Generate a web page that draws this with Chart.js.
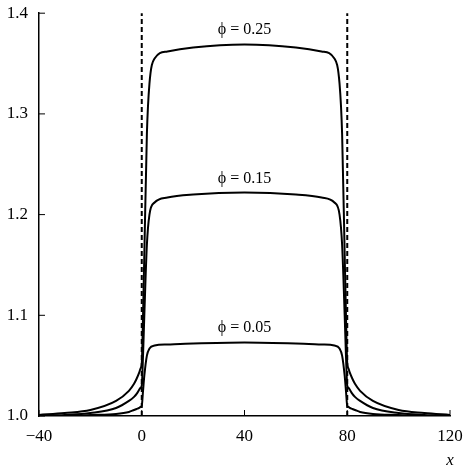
<!DOCTYPE html>
<html>
<head>
<meta charset="utf-8">
<script src="https://cdn.jsdelivr.net/npm/chart.js@4"></script>
<style>
  html, body { margin: 0; padding: 0; background: #fff; }
  #wrap { width: 474px; height: 474px; }
</style>
</head>
<body>
<div id="wrap"><canvas id="grafica"></canvas></div>
<script>
// x positions sampled along the profile (mirror-symmetric about x = 40)
const xs = [-40, -30, -20, -10, -5, -3, -2, -1, -0.5, 0, 0.5, 1, 2, 3, 5, 10, 20, 40,
            60, 70, 75, 77, 78, 79, 79.5, 80, 80.5, 81, 82, 83, 85, 90, 100, 110, 120];

const phi25 = [1.001, 1.003, 1.006, 1.015, 1.025, 1.032, 1.037, 1.043, 1.047, 1.052, 1.1, 1.16, 1.28, 1.33, 1.355, 1.362, 1.366, 1.369,
               1.366, 1.362, 1.355, 1.33, 1.28, 1.16, 1.1, 1.052, 1.047, 1.043, 1.037, 1.032, 1.025, 1.015, 1.006, 1.003, 1.001];
const phi15 = [1.0, 1.001, 1.003, 1.008, 1.015, 1.019, 1.022, 1.026, 1.028, 1.03, 1.06, 1.1, 1.17, 1.2, 1.212, 1.217, 1.22, 1.222,
               1.22, 1.217, 1.212, 1.2, 1.17, 1.1, 1.06, 1.03, 1.028, 1.026, 1.022, 1.019, 1.015, 1.008, 1.003, 1.001, 1.0];
const phi05 = [1.0, 1.0, 1.001, 1.002, 1.004, 1.006, 1.007, 1.008, 1.009, 1.01, 1.025, 1.04, 1.06, 1.067, 1.07, 1.071, 1.072, 1.073,
               1.072, 1.071, 1.07, 1.067, 1.06, 1.04, 1.025, 1.01, 1.009, 1.008, 1.007, 1.006, 1.004, 1.002, 1.001, 1.0, 1.0];

const etiquetas = [
  { texto: 'ϕ = 0.25', x: 40, y: 1.382 },
  { texto: 'ϕ = 0.15', x: 40, y: 1.234 },
  { texto: 'ϕ = 0.05', x: 40, y: 1.086 }
];
const bordes = [0, 80];
const xTicks = [-40, 0, 40, 80, 120];

function serie(ys) {
  return {
    data: xs.map((x, i) => ({ x: x, y: ys[i] })),
    showLine: true,
    borderColor: '#000',
    borderWidth: 2,
    pointRadius: 0,
    cubicInterpolationMode: 'monotone'
  };
}

const extras = {
  id: 'extras',
  afterDatasetsDraw(chart) {
    const ctx = chart.ctx;
    const sx = chart.scales.x, sy = chart.scales.y;
    ctx.save();
    // dashed boundaries
    ctx.strokeStyle = '#000';
    ctx.lineWidth = 2;
    ctx.setLineDash([5, 3]);
    bordes.forEach(b => {
      ctx.beginPath();
      ctx.moveTo(sx.getPixelForValue(b), sy.getPixelForValue(1.0));
      ctx.lineTo(sx.getPixelForValue(b), sy.getPixelForValue(1.4));
      ctx.stroke();
    });
    ctx.setLineDash([]);
    // inward ticks
    ctx.lineWidth = 1;
    xTicks.forEach(t => {
      const px = sx.getPixelForValue(t);
      ctx.beginPath();
      ctx.moveTo(px, sy.bottom);
      ctx.lineTo(px, sy.bottom - 6);
      ctx.stroke();
    });
    [1.0, 1.1, 1.2, 1.3, 1.4].forEach(t => {
      const py = sy.getPixelForValue(t);
      ctx.beginPath();
      ctx.moveTo(sx.left, py);
      ctx.lineTo(sx.left + 6, py);
      ctx.stroke();
    });
    // labels
    ctx.fillStyle = '#000';
    ctx.font = '16px "Liberation Serif", serif';
    ctx.textAlign = 'center';
    ctx.textBaseline = 'bottom';
    etiquetas.forEach(e => {
      ctx.fillText(e.texto, sx.getPixelForValue(e.x), sy.getPixelForValue(e.y) + 6);
    });
    ctx.font = 'italic 17px "Liberation Serif", serif';
    ctx.textAlign = 'center';
    ctx.textBaseline = 'middle';
    ctx.fillText('x', sx.right, sy.bottom + 45);
    ctx.restore();
  }
};

new Chart(document.getElementById('grafica'), {
  type: 'scatter',
  data: { datasets: [serie(phi25), serie(phi15), serie(phi05)] },
  plugins: [extras],
  options: {
    responsive: true,
    maintainAspectRatio: false,
    animation: false,
    layout: { padding: { top: 7, right: 24, left: 0, bottom: 0 } },
    plugins: { legend: { display: false }, tooltip: { enabled: false } },
    scales: {
      x: {
        type: 'linear', min: -40, max: 120,
        afterBuildTicks: a => { a.ticks = xTicks.map(v => ({ value: v })); },
        afterFit: a => { a.height = 58; },
        grid: { display: false },
        border: { color: '#000', width: 1.5 },
        ticks: { color: '#000', font: { family: '"Liberation Serif", serif', size: 17 }, padding: 2, maxRotation: 0,
                 callback: v => v < 0 ? '−' + Math.abs(v) : String(v) }
      },
      y: {
        type: 'linear', min: 1.0, max: 1.4,
        afterBuildTicks: a => { a.ticks = [1.0, 1.1, 1.2, 1.3, 1.4].map(v => ({ value: v })); },
        afterFit: a => { a.width = 39; },
        grid: { display: false },
        border: { color: '#000', width: 1.5 },
        ticks: { color: '#000', font: { family: '"Liberation Serif", serif', size: 17 }, padding: 3,
                 callback: v => v.toFixed(1) }
      }
    }
  }
});
</script>
</body>
</html>
